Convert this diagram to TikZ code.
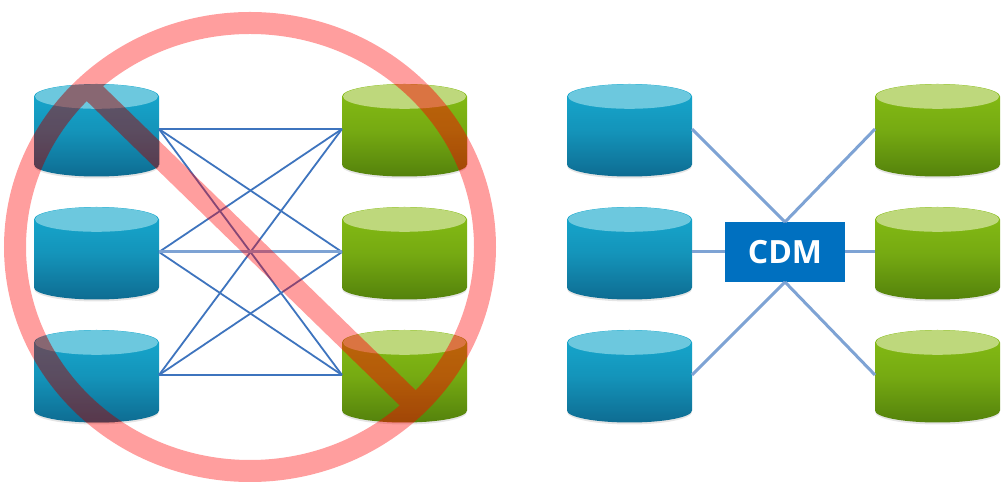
\documentclass[tikz,border=0pt]{standalone}
\usepackage{fontspec}
\setmainfont{Open Sans}
\definecolor{bluetop}{RGB}{22,170,208}
\definecolor{bluemid}{RGB}{20,148,186}
\definecolor{bluebot}{RGB}{14,108,146}
\definecolor{bluelid}{RGB}{108,200,222}
\definecolor{greentop}{RGB}{134,190,20}
\definecolor{greenmid}{RGB}{118,170,18}
\definecolor{greenbot}{RGB}{84,130,12}
\definecolor{greenlid}{RGB}{190,216,124}
\definecolor{linkdark}{RGB}{62,116,190}
\definecolor{linklight}{RGB}{126,163,212}
\definecolor{cdmblue}{RGB}{0,112,192}
\tikzset{
  dbbox/.style={minimum width=125pt,minimum height=90pt,inner sep=0pt,outer sep=0pt},
  thinlink/.style={draw=linkdark,line width=1.8pt},
  softlink/.style={draw=linklight,line width=3pt},
  cdmbox/.style={fill=cdmblue,text=white,font=\bfseries\fontsize{32}{32}\selectfont,
    minimum width=120pt,minimum height=60pt,inner sep=0pt,outer sep=0pt},
  nosign/.style={line width=22pt,line cap=butt}
}
% outline of a cylinder whose node centre is at (#1,#2)
\newcommand{\dbshape}[2]{
  ({#1-62.5},{#2+32.5}) -- ({#1-62.5},{#2-35.5})
  arc[start angle=180,end angle=360,x radius=62.5,y radius=12]
  -- ({#1+62.5},{#2+32.5}) arc[start angle=0,end angle=180,x radius=62.5,y radius=12.5] -- cycle
}
\newcommand{\dbnode}[5]{%
  \node[dbbox] (#1) at (#2,#3) {};
  \fill[black,opacity=.10] ({#2},{#3-37}) ellipse[x radius=62.5,y radius=12.5];
  \path[top color=#4top,bottom color=#4bot,middle color=#4mid] \dbshape{#2}{#3};
  \fill[#5] ({#2},{#3+32.5}) ellipse[x radius=61.5,y radius=12.3];
}
\newcommand{\nosignpaths}[1]{%
  \draw[nosign,draw=#1] (250,240) ellipse[x radius=235,y radius=224];
  \draw[nosign,draw=#1] (86,402) -- (415,82);
}
\begin{document}
\begin{tikzpicture}[x=1pt,y=1pt]
\useasboundingbox (0,0) rectangle (1007,487);
\fill[white] (0,0) rectangle (1007,487);
% left group
\dbnode{la}{96.5}{358}{blue}{bluelid}
\dbnode{lb}{96.5}{235}{blue}{bluelid}
\dbnode{lc}{96.5}{112}{blue}{bluelid}
\dbnode{ra}{404.5}{358}{green}{greenlid}
\dbnode{rb}{404.5}{235}{green}{greenlid}
\dbnode{rc}{404.5}{112}{green}{greenlid}
\foreach \s in {la,lb,lc}{
  \foreach \t in {ra,rb,rc}{
    \draw[thinlink] (\s.east) -- (\t.west);
  }
}
\draw[softlink] (lb.east) -- (rb.west);
% right group
\dbnode{ma}{629.5}{358}{blue}{bluelid}
\dbnode{mb}{629.5}{235}{blue}{bluelid}
\dbnode{mc}{629.5}{112}{blue}{bluelid}
\dbnode{na}{937.5}{358}{green}{greenlid}
\dbnode{nb}{937.5}{235}{green}{greenlid}
\dbnode{nc}{937.5}{112}{green}{greenlid}
\node[cdmbox] (cdm) at (785,235) {CDM};
\draw[softlink] (ma.east) -- (cdm.north);
\draw[softlink] (na.west) -- (cdm.north);
\draw[softlink] (mb.east) -- (cdm.west);
\draw[softlink] (nb.west) -- (cdm.east);
\draw[softlink] (mc.east) -- (cdm.south);
\draw[softlink] (nc.west) -- (cdm.south);
% prohibition sign
\begin{scope}[transparency group,opacity=.38]
  \nosignpaths{red}
\end{scope}
% the sign reads darker where it crosses a cylinder
\begin{scope}
  \clip \dbshape{96.5}{358} \dbshape{96.5}{112};
  \begin{scope}[transparency group,opacity=.16]
    \nosignpaths{black}
  \end{scope}
\end{scope}
\begin{scope}
  \clip \dbshape{404.5}{358} \dbshape{404.5}{112};
  \begin{scope}[transparency group,opacity=.12]
    \nosignpaths{red}
  \end{scope}
\end{scope}
\end{tikzpicture}
\end{document}
